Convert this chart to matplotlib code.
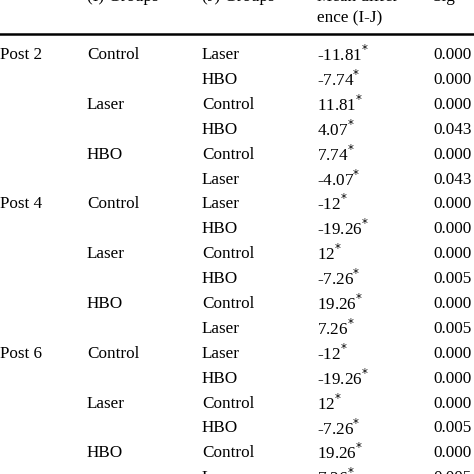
import matplotlib.pyplot as plt

periods = ["Post 2", "", "", "", "", "", "Post 4", "", "", "", "", "", "Post 6", "", "", "", "", ""]
groups_i = ["Control", "", "Laser", "", "HBO", "", "Control", "", "Laser", "", "HBO", "",
            "Control", "", "Laser", "", "HBO", ""]
groups_j = ["Laser", "HBO", "Control", "HBO", "Control", "Laser"] * 3
mean_diff = ["-11.81", "-7.74", "11.81", "4.07", "7.74", "-4.07",
             "-12", "-19.26", "12", "-7.26", "19.26", "7.26",
             "-12", "-19.26", "12", "-7.26", "19.26", "7.26"]
sig = ["0.000", "0.000", "0.000", "0.043", "0.000", "0.043",
       "0.000", "0.000", "0.000", "0.005", "0.000", "0.005",
       "0.000", "0.000", "0.000", "0.005", "0.000", "0.005"]

plt.rcParams['font.family'] = ['Liberation Serif', 'DejaVu Serif']
fig = plt.figure(figsize=(4.74, 4.74), dpi=100)
ax = fig.add_axes([0, 0, 1, 1])
ax.set_xlim(0, 474)
ax.set_ylim(474, 0)
ax.axis('off')

fs = 12.3
cols = [0, 87, 202, 317, 433]
# header
ax.text(cols[1], -3, "(I) Groups", fontsize=fs, va='center')
ax.text(cols[2], -3, "(J) Groups", fontsize=fs, va='center')
ax.text(cols[3], -3, "Mean differ", fontsize=fs, va='center')
ax.text(cols[3], 18, "ence (I-J)", fontsize=fs, va='center')
ax.text(cols[4], -3, "Sig", fontsize=fs, va='center')
ax.plot([0, 474], [34, 34], color='black', lw=1.8)

for k in range(len(groups_j)):
    y = 55 + k * 24.9
    ax.text(cols[0], y, periods[k], fontsize=fs, va='center')
    ax.text(cols[1], y, groups_i[k], fontsize=fs, va='center')
    ax.text(cols[2], y, groups_j[k], fontsize=fs, va='center')
    ax.text(cols[3], y, mean_diff[k] + r"$^{*}$", fontsize=fs, va='center')
    ax.text(cols[4], y, sig[k], fontsize=fs, va='center')

fig.savefig("out.png", dpi=100)
